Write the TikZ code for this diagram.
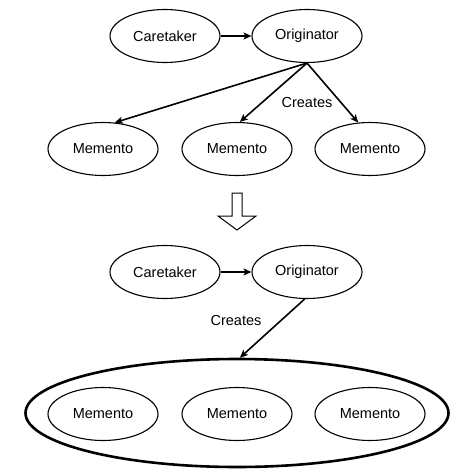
\documentclass[tikz,border=0pt]{standalone}
\usepackage{fontspec}
\setmainfont{Liberation Sans}
\usetikzlibrary{shapes.geometric,arrows.meta}
\begin{document}
\begin{tikzpicture}[x=1pt,y=-1pt,
  obj/.style={ellipse,draw,line width=1.1pt,minimum width=110pt,minimum height=53pt,inner sep=0pt,font=\fontsize{14.5}{16}\selectfont},
  conn/.style={line width=1.6pt,-{Stealth[length=8pt,width=7pt,inset=2pt]}},
  lbl/.style={font=\fontsize{14.5}{16}\selectfont}]
\useasboundingbox (0,0) rectangle (474,474);
% top part
\node[obj] (c1) at (165,36) {Caretaker};
\node[obj] (o1) at (307,36) {Originator};
\node[obj] (m1) at (103,149) {Memento};
\node[obj] (m2) at (237,149) {Memento};
\node[obj] (m3) at (370,149) {Memento};
\draw[conn] (c1) -- (o1);
\draw[conn] (o1.south) -- (m1.66);
\draw[conn] (o1.south) -- (m2.84);
\draw[conn] (o1.south) -- (m3.114);
\node[lbl] (t1) at (307,103) {Creates};
% down block arrow
\draw[line width=1pt] (232,193) -- (242,193) -- (242,216) -- (256,216) -- (237,230) -- (218,216) -- (232,216) -- cycle;
% bottom part
\node[obj] (c2) at (165,272) {Caretaker};
\node[obj] (o2) at (307,272) {Originator};
\node[ellipse,draw,line width=2.6pt,minimum width=423pt,minimum height=108pt,inner sep=0pt] (big) at (237,413) {};
\node[obj] (n1) at (103,414) {Memento};
\node[obj] (n2) at (237,414) {Memento};
\node[obj] (n3) at (370,414) {Memento};
\draw[conn] (c2) -- (o2);
\draw[conn] (o2.-95) -- (big.87);
\node[lbl] (t2) at (236,321) {Creates};
\end{tikzpicture}
\end{document}
